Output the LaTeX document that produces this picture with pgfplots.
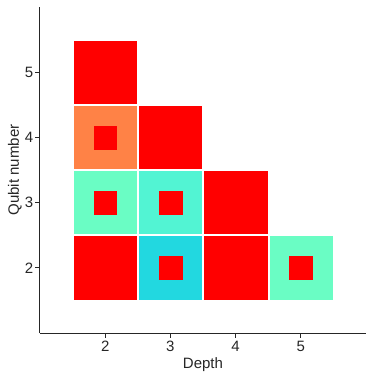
\documentclass[border=0pt]{standalone}
\usepackage{fontspec}
\setmainfont{Liberation Sans}
\usepackage{pgfplots}
\pgfplotsset{compat=1.18}
\definecolor{axgray}{HTML}{262626}
\definecolor{cRed}{HTML}{FF0000}
\definecolor{cCoral}{HTML}{FF8246}
\definecolor{cMint}{HTML}{6AFDC4}
\definecolor{cAqua}{HTML}{52F4D3}
\definecolor{cCyan}{HTML}{22D8E0}

\begin{document}
\fontsize{15}{17}\selectfont
\begin{tikzpicture}
\begin{axis}[
  scale only axis,
  width=326pt, height=326pt,
  xmin=1, xmax=6, ymin=1, ymax=6,
  axis x line*=bottom, axis y line*=left,
  axis line style={draw=axgray, line width=1pt},
  xtick={2,3,4,5}, ytick={2,3,4,5},
  tick align=outside,
  major tick length=4.5pt,
  tick style={draw=axgray, line width=1pt},
  tick label style={text=axgray, font=\fontsize{15}{17}\selectfont},
  yticklabel style={xshift=3pt},
  xticklabel style={yshift=2pt},
  /pgf/number format/assume math mode=true,
  xlabel={Depth}, ylabel={Qubit number},
  label style={text=axgray, font=\fontsize{15}{17}\selectfont, inner sep=1pt},
  xlabel style={yshift=0pt},
  ylabel style={yshift=-3pt},
  only marks,
  every axis plot/.append style={mark=square*},
]
% cells (one unit = 65.2pt, gap 3pt)
\addplot[cRed, mark options={fill=cRed, draw=none}, mark size=31.1pt]
  coordinates {(2,2) (2,5) (3,4) (4,3) (4,2)};
\addplot[cCoral, mark options={fill=cCoral, draw=none}, mark size=31.1pt]
  coordinates {(2,4)};
\addplot[cMint, mark options={fill=cMint, draw=none}, mark size=31.1pt]
  coordinates {(2,3) (5,2)};
\addplot[cAqua, mark options={fill=cAqua, draw=none}, mark size=31.1pt]
  coordinates {(3,3)};
\addplot[cCyan, mark options={fill=cCyan, draw=none}, mark size=31.1pt]
  coordinates {(3,2)};
% inner markers
\addplot[cRed, mark options={fill=cRed, draw=none}, mark size=11.4pt]
  coordinates {(2,4) (2,3) (3,3) (3,2) (5,2)};
\end{axis}
\path (current axis.south west)++(-40pt,-46pt) rectangle ([shift={(7pt,7pt)}]current axis.north east);
\end{tikzpicture}
\end{document}
